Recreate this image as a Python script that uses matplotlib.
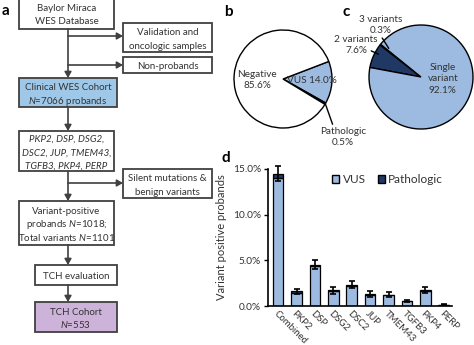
import numpy as np
import matplotlib
matplotlib.use("Agg")
import matplotlib.pyplot as plt
from matplotlib.patches import Rectangle, Patch

plt.rcParams['font.family'] = ['Lato', 'DejaVu Sans']
plt.rcParams['mathtext.fontset'] = 'custom'
plt.rcParams['mathtext.rm'] = 'Lato'
plt.rcParams['mathtext.it'] = 'Lato:italic'

# ---- data ----
pie_b_labels = ['VUS', 'Pathologic', 'Negative']
pie_b_values = [14.0, 0.5, 85.6]

pie_c_labels = ['3 variants', '2 variants', 'Single variant']
pie_c_values = [0.3, 7.6, 92.1]

genes = ['Combined', 'PKP2', 'DSP', 'DSG2', 'DSC2', 'JUP', 'TMEM43', 'TGFB3', 'PKP4', 'PERP']
vus = [14.0, 1.45, 4.35, 1.6, 2.2, 1.2, 1.15, 0.5, 1.65, 0.1]
pathologic = [0.5, 0.15, 0.15, 0.1, 0.15, 0.1, 0.1, 0.05, 0.1, 0.05]
err = [0.8, 0.3, 0.5, 0.35, 0.35, 0.3, 0.3, 0.15, 0.35, 0.08]
yticks = [0, 5, 10, 15]

flow_texts = [
    "Baylor Miraca\nWES Database",
    "Validation and\noncologic samples",
    "Non-probands",
    "Clinical WES Cohort\n$N$=7066 probands",
    "PKP2, DSP, DSG2,\nDSC2, JUP, TMEM43,\nTGFB3, PKP4, PERP",
    "Silent mutations &\nbenign variants",
    "Variant-positive\nprobands $N$=1018;\nTotal variants $N$=1101",
    "TCH evaluation",
    "TCH Cohort\n$N$=553",
]

# ---- colours ----
LIGHT = '#9dbbe0'
DARK = '#1f3864'
BOXBLUE = '#9fc8e8'
BOXPURPLE = '#cdb3d9'
LINE = '#404040'
TXT = '#333333'

W, H = 474, 345
fig = plt.figure(figsize=(W / 100, H / 100), dpi=100)

# ---- panel a: flowchart in pixel coordinates ----
fa = fig.add_axes([0, 0, 1, 1])
fa.set_xlim(0, W)
fa.set_ylim(H, 0)
fa.axis('off')

# box layout: x0, y0, x1, y1, fill, italic
boxes = [
    (19, -3, 114, 29, 'white', False),
    (123, 23, 212, 52, 'white', False),
    (123, 57, 212, 73, 'white', False),
    (19, 78, 117, 107, BOXBLUE, False),
    (19, 131, 114, 171, 'white', True),
    (123, 169, 212, 198, 'white', False),
    (19, 201, 114, 245, 'white', False),
    (35, 265, 117, 285, 'white', False),
    (35, 302, 117, 332, BOXPURPLE, False),
]
STEP = 13.6
for (x0, y0, x1, y1, fc, it), txt in zip(boxes, flow_texts):
    fa.add_patch(Rectangle((x0, y0), x1 - x0, y1 - y0, facecolor=fc,
                           edgecolor=LINE, linewidth=1.3, zorder=2))
    lines = txt.split('\n')
    yc = (y0 + y1) / 2 + 1
    for i, ln in enumerate(lines):
        yl = yc + (i - (len(lines) - 1) / 2) * STEP
        fa.text((x0 + x1) / 2, yl + 3.4, ln, ha='center', va='baseline',
                fontsize=7.0, color=TXT, style='italic' if it else 'normal', zorder=3)

arr = dict(arrowstyle='-|>,head_length=0.35,head_width=0.2', color=LINE, lw=1.2,
           shrinkA=0, shrinkB=0)
vx = 68
for ya, yb in [(29, 78), (107, 131), (171, 201), (245, 265), (285, 302)]:
    fa.annotate('', xy=(vx, yb), xytext=(vx, ya), arrowprops=arr)
for yh in [36, 65, 183]:
    fa.annotate('', xy=(123, yh), xytext=(vx, yh), arrowprops=arr)

fa.text(2, 11, 'a', fontsize=11, fontweight='bold', va='center')
fa.text(224, 12, 'b', fontsize=11, fontweight='bold', va='center')
fa.text(343, 12, 'c', fontsize=11, fontweight='bold', va='center')
fa.text(222, 158, 'd', fontsize=11, fontweight='bold', va='center')

# ---- panel b ----
ab = fig.add_axes([234 / W, 1 - 128 / H, 98 / W, 98 / H])
ab.pie(pie_b_values, colors=[LIGHT, DARK, 'white'], startangle=21, counterclock=False,
       wedgeprops=dict(edgecolor='black', linewidth=1.0))
ab.set_xlim(-1, 1)
ab.set_ylim(-1, 1)
ab.set_aspect('equal')
ab.axis('off')
ab.text(-0.53, -0.02, f"Negative\n{pie_b_values[2]}%", ha='center', va='center',
        fontsize=7.2, color=TXT, linespacing=1.35)
ab.text(0.6, -0.03, f"VUS {pie_b_values[0]}%", ha='center', va='center',
        fontsize=7.2, color=TXT)
ang = np.deg2rad(21 - 360 * (pie_b_values[0] + pie_b_values[1] / 2) / 100)
ab.annotate(f"Pathologic\n{pie_b_values[1]}%", xy=(np.cos(ang), np.sin(ang)),
            xytext=(1.22, -0.98), ha='center', va='top', fontsize=7.2, color=TXT,
            linespacing=1.35, annotation_clip=False,
            arrowprops=dict(arrowstyle='-', color='black', lw=1.0, shrinkA=0, shrinkB=0,
                            relpos=(0.3, 1.0)))

# ---- panel c ----
ac = fig.add_axes([369 / W, 1 - 129 / H, 104 / W, 104 / H])
ac.pie(pie_c_values, colors=[DARK, DARK, LIGHT], startangle=141,
       wedgeprops=dict(edgecolor='black', linewidth=1.0))
ac.set_xlim(-1, 1)
ac.set_ylim(-1, 1)
ac.set_aspect('equal')
ac.axis('off')
ac.text(0.42, -0.03, f"Single\nvariant\n{pie_c_values[2]}%", ha='center', va='center',
        fontsize=7.2, color=TXT, linespacing=1.35)
ac.annotate(f"3 variants\n{pie_c_values[0]}%", xy=(-0.62, 0.55), xytext=(-0.78, 1.0),
            ha='center', va='center', fontsize=7.2, color=TXT, linespacing=1.35,
            annotation_clip=False,
            arrowprops=dict(arrowstyle='-', color='black', lw=1.0, shrinkA=0, shrinkB=0,
                            relpos=(0.5, 0.0)))
ac.annotate(f"2 variants\n{pie_c_values[1]}%", xy=(-0.82, 0.44), xytext=(-1.25, 0.62),
            ha='center', va='center', fontsize=7.2, color=TXT, linespacing=1.35,
            annotation_clip=False,
            arrowprops=dict(arrowstyle='-', color='black', lw=1.0, shrinkA=0, shrinkB=0,
                            relpos=(0.85, 0.2)))

# ---- panel d ----
ad = fig.add_axes([268 / W, 1 - 306 / H, (452 - 268) / W, (306 - 169) / H])
x = np.arange(len(genes))
total = np.array(vus) + np.array(pathologic)
ad.bar(x, vus, width=0.58, color=LIGHT, edgecolor='black', linewidth=0.9, zorder=2)
ad.bar(x, pathologic, bottom=vus, width=0.58, color=DARK, edgecolor='black',
       linewidth=0.9, zorder=2)
ad.errorbar(x, total, yerr=err, fmt='none', ecolor='black', elinewidth=1.2,
            capsize=2.5, capthick=1.2, zorder=3, clip_on=False)
ad.set_xlim(-0.55, 9.45)
ad.set_ylim(0, 15)
ad.set_yticks(yticks)
ad.set_yticklabels([f"{v:.1f}%" for v in yticks], fontsize=7.3, color=TXT)
ad.set_xticks(x)
ad.set_xticklabels(genes, rotation=-45, ha='left', va='top', rotation_mode='anchor',
                   fontsize=6.9, color=TXT)
ad.tick_params(axis='x', length=0, pad=2)
ad.tick_params(axis='y', length=3, width=1.0, pad=2)
for s in ['top', 'right']:
    ad.spines[s].set_visible(False)
for s in ['left', 'bottom']:
    ad.spines[s].set_linewidth(1.2)
ad.set_ylabel('Variant positive probands', fontsize=8, color=TXT, labelpad=4)
handles = [Patch(facecolor=LIGHT, edgecolor='black', label='VUS'),
           Patch(facecolor=DARK, edgecolor='black', label='Pathologic')]
ad.legend(handles=handles, loc='upper right', bbox_to_anchor=(1.01, 1.04), ncol=2,
          frameon=False, fontsize=8.5, handlelength=0.6, handleheight=0.6,
          handletextpad=0.3, columnspacing=1.0, labelcolor=TXT)

fig.savefig('out.png', dpi=100)
